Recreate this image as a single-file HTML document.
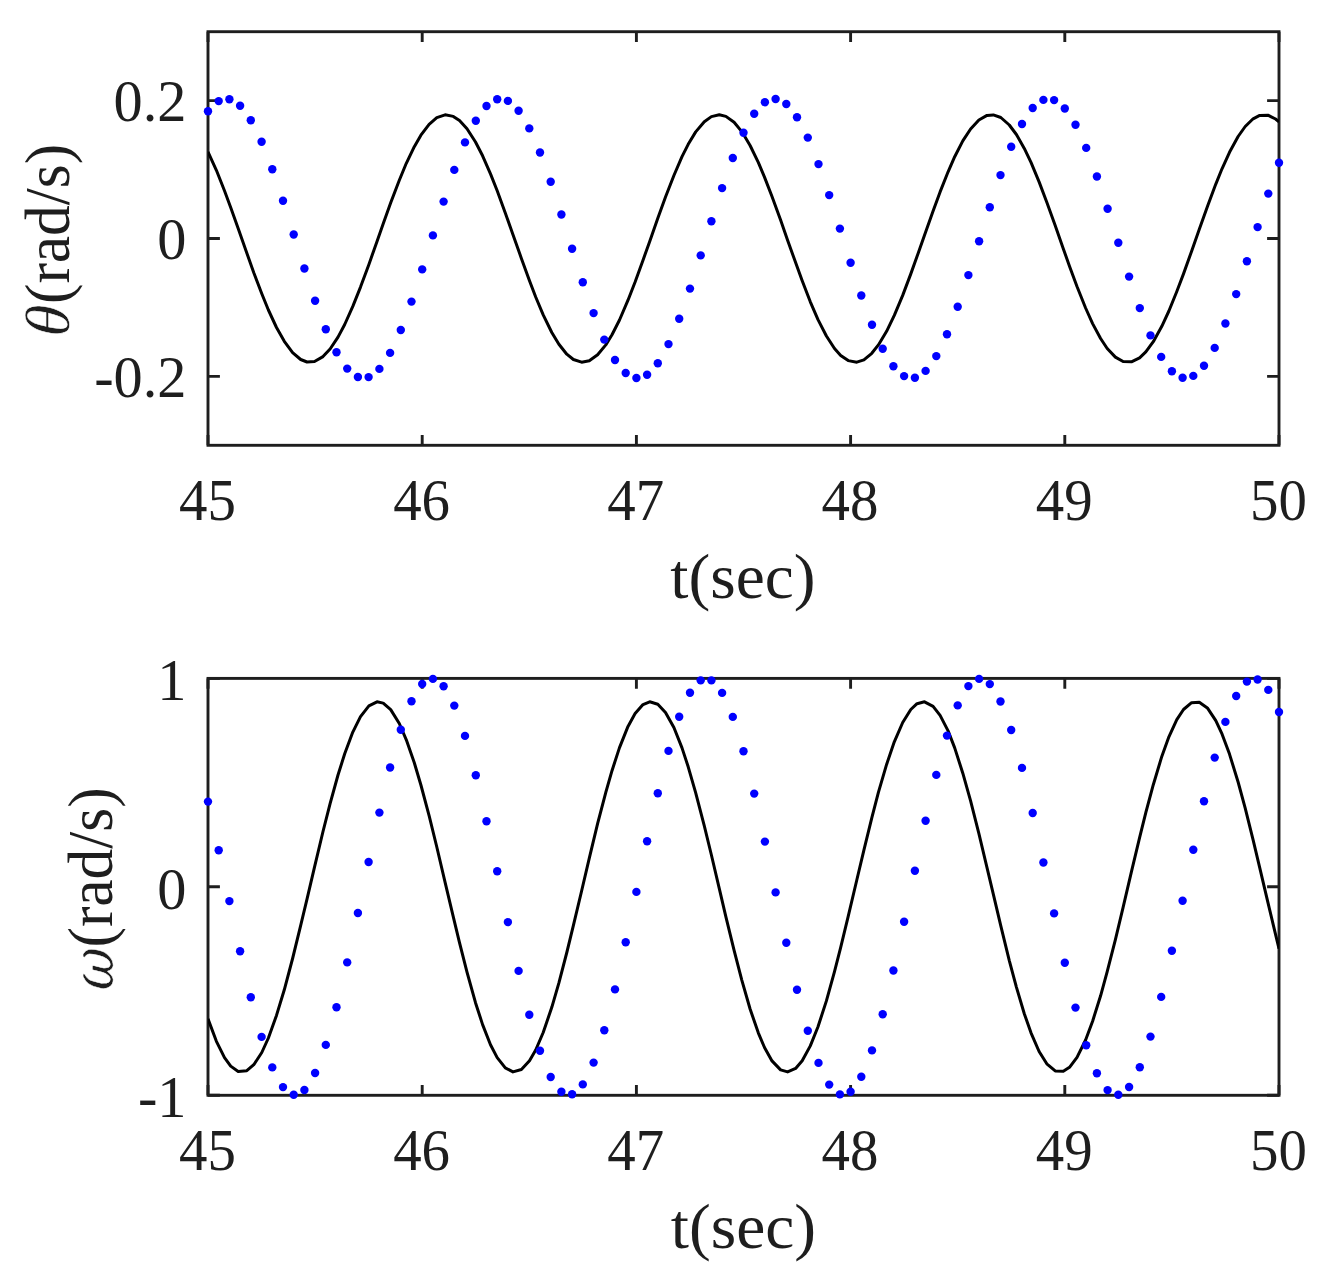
<!DOCTYPE html>
<html><head><meta charset="utf-8"><title>Pendulum response</title>
<style>
html,body{margin:0;padding:0;background:#fff}
svg{display:block}
text{font-family:"Liberation Serif","Times New Roman",serif;fill:#1e1e1e}
.tk text{font-size:58.33px}
.lb{font-size:64.17px}
.gk{font-style:italic;stroke:#fff;stroke-width:0.6px}
.om{font-family:"DejaVu Serif","Liberation Serif",serif;font-style:italic;font-size:55px;stroke:#fff;stroke-width:0.5px}
</style></head><body>
<svg width="1335" height="1272" viewBox="0 0 1335 1272">
<defs><clipPath id="c1"><rect x="208.0" y="31.7" width="1071.0" height="413.6"/></clipPath><clipPath id="c2"><rect x="208.0" y="678.4" width="1071.0" height="416.9"/></clipPath></defs>
<rect width="1335" height="1272" fill="#fff"/>
<g id="plot1">
<rect x="208.0" y="31.7" width="1071.0" height="413.6" fill="none" stroke="#1e1e1e" stroke-width="2.90"/><path d="M208.0 445.3v-10.3M208.0 31.7v10.3M422.2 445.3v-10.3M422.2 31.7v10.3M636.4 445.3v-10.3M636.4 31.7v10.3M850.6 445.3v-10.3M850.6 31.7v10.3M1064.8 445.3v-10.3M1064.8 31.7v10.3M1279.0 445.3v-10.3M1279.0 31.7v10.3M208.0 376.4h11.9M1279.0 376.4h-11.9M208.0 238.5h11.9M1279.0 238.5h-11.9M208.0 100.6h11.9M1279.0 100.6h-11.9" fill="none" stroke="#1e1e1e" stroke-width="2.90"/>
<polyline clip-path="url(#c1)" points="208.0,151.8 216.4,170.3 224.5,190.8 230.7,207.5 238.2,228.6 246.8,253.0 253.8,272.7 261.8,293.7 268.4,310.0 276.5,327.5 284.3,341.3 292.6,352.6 300.7,359.5 307.0,362.0 314.5,361.5 323.0,356.6 330.1,349.0 338.0,337.1 344.7,324.5 352.8,306.4 360.5,287.1 368.9,264.4 377.0,241.4 383.2,223.7 390.7,202.8 399.3,180.3 406.3,163.3 414.3,146.7 420.9,135.2 429.1,124.3 436.8,117.7 445.1,114.8 453.3,116.4 459.5,120.5 467.0,128.7 475.5,142.0 482.6,155.8 490.5,173.9 497.2,190.8 505.3,212.9 513.0,234.7 521.4,258.4 529.5,280.8 535.7,297.0 543.2,314.9 551.8,332.5 558.9,344.3 566.8,354.2 573.4,359.5 581.6,362.2 589.3,360.7 597.6,354.8 605.8,344.9 612.0,334.8 619.5,320.0 628.0,300.2 635.1,282.0 643.0,260.2 649.7,241.4 657.8,218.3 665.5,197.0 673.9,175.5 682.0,156.7 688.2,144.3 695.7,131.9 704.3,121.7 711.4,116.6 719.3,114.8 725.9,116.4 734.1,122.3 741.8,131.6 750.1,145.5 758.3,162.4 764.5,177.1 772.0,196.5 780.6,220.1 787.6,240.2 795.6,262.6 802.2,280.8 810.3,301.8 818.0,319.6 826.4,336.0 834.5,348.5 840.7,355.4 848.2,360.6 856.8,362.2 863.9,359.8 871.8,353.3 878.4,344.9 886.6,331.3 894.3,315.3 902.7,295.4 910.8,273.9 917.0,256.6 924.5,235.3 933.1,211.1 940.1,191.9 948.1,171.8 954.7,156.7 962.8,140.9 970.6,129.0 978.9,120.0 987.0,115.4 993.3,114.9 1000.8,117.5 1009.3,125.0 1016.4,134.5 1024.3,148.4 1031.0,162.4 1039.1,181.9 1046.8,202.2 1055.2,225.5 1063.3,248.7 1069.5,266.2 1077.0,286.5 1085.6,308.0 1092.6,323.6 1100.6,338.5 1107.2,348.5 1115.4,357.1 1123.1,361.5 1131.4,361.8 1139.6,357.8 1145.8,351.9 1153.3,341.7 1161.8,326.3 1168.9,311.0 1176.8,291.5 1183.5,273.9 1191.6,251.2 1199.3,229.2 1207.7,205.8 1215.8,184.1 1222.0,168.8 1229.5,152.3 1238.1,136.5 1245.2,126.5 1253.1,118.8 1259.7,115.4 1267.9,115.2 1275.6,119.0 1279.0,121.9" fill="none" stroke="#000" stroke-width="3.00" stroke-linejoin="round"/>
<g fill="#0000ff"><circle cx="208.0" cy="111.2" r="4.2"/><circle cx="218.7" cy="101.1" r="4.2"/><circle cx="229.4" cy="99.2" r="4.2"/><circle cx="240.1" cy="105.7" r="4.2"/><circle cx="250.8" cy="120.2" r="4.2"/><circle cx="261.6" cy="141.8" r="4.2"/><circle cx="272.3" cy="169.2" r="4.2"/><circle cx="283.0" cy="200.7" r="4.2"/><circle cx="293.7" cy="234.5" r="4.2"/><circle cx="304.4" cy="268.5" r="4.2"/><circle cx="315.1" cy="300.8" r="4.2"/><circle cx="325.8" cy="329.3" r="4.2"/><circle cx="336.5" cy="352.3" r="4.2"/><circle cx="347.2" cy="368.6" r="4.2"/><circle cx="357.9" cy="377.0" r="4.2"/><circle cx="368.6" cy="377.1" r="4.2"/><circle cx="379.4" cy="368.9" r="4.2"/><circle cx="390.1" cy="352.9" r="4.2"/><circle cx="400.8" cy="330.0" r="4.2"/><circle cx="411.5" cy="301.6" r="4.2"/><circle cx="422.2" cy="269.4" r="4.2"/><circle cx="432.9" cy="235.4" r="4.2"/><circle cx="443.6" cy="201.6" r="4.2"/><circle cx="454.3" cy="169.9" r="4.2"/><circle cx="465.0" cy="142.4" r="4.2"/><circle cx="475.8" cy="120.7" r="4.2"/><circle cx="486.5" cy="106.0" r="4.2"/><circle cx="497.2" cy="99.3" r="4.2"/><circle cx="507.9" cy="100.9" r="4.2"/><circle cx="518.6" cy="110.8" r="4.2"/><circle cx="529.3" cy="128.4" r="4.2"/><circle cx="540.0" cy="152.5" r="4.2"/><circle cx="550.7" cy="181.8" r="4.2"/><circle cx="561.4" cy="214.5" r="4.2"/><circle cx="572.1" cy="248.7" r="4.2"/><circle cx="582.8" cy="282.2" r="4.2"/><circle cx="593.6" cy="313.1" r="4.2"/><circle cx="604.3" cy="339.6" r="4.2"/><circle cx="615.0" cy="360.0" r="4.2"/><circle cx="625.7" cy="373.0" r="4.2"/><circle cx="636.4" cy="378.0" r="4.2"/><circle cx="647.1" cy="374.7" r="4.2"/><circle cx="657.8" cy="363.2" r="4.2"/><circle cx="668.5" cy="344.1" r="4.2"/><circle cx="679.2" cy="318.8" r="4.2"/><circle cx="690.0" cy="288.6" r="4.2"/><circle cx="700.7" cy="255.4" r="4.2"/><circle cx="711.4" cy="221.3" r="4.2"/><circle cx="722.1" cy="188.1" r="4.2"/><circle cx="732.8" cy="158.0" r="4.2"/><circle cx="743.5" cy="132.7" r="4.2"/><circle cx="754.2" cy="113.7" r="4.2"/><circle cx="764.9" cy="102.2" r="4.2"/><circle cx="775.6" cy="99.0" r="4.2"/><circle cx="786.3" cy="104.0" r="4.2"/><circle cx="797.0" cy="117.2" r="4.2"/><circle cx="807.8" cy="137.6" r="4.2"/><circle cx="818.5" cy="164.1" r="4.2"/><circle cx="829.2" cy="195.1" r="4.2"/><circle cx="839.9" cy="228.6" r="4.2"/><circle cx="850.6" cy="262.8" r="4.2"/><circle cx="861.3" cy="295.5" r="4.2"/><circle cx="872.0" cy="324.7" r="4.2"/><circle cx="882.7" cy="348.8" r="4.2"/><circle cx="893.4" cy="366.3" r="4.2"/><circle cx="904.1" cy="376.1" r="4.2"/><circle cx="914.9" cy="377.7" r="4.2"/><circle cx="925.6" cy="370.9" r="4.2"/><circle cx="936.3" cy="356.1" r="4.2"/><circle cx="947.0" cy="334.3" r="4.2"/><circle cx="957.7" cy="306.8" r="4.2"/><circle cx="968.4" cy="275.1" r="4.2"/><circle cx="979.1" cy="241.3" r="4.2"/><circle cx="989.8" cy="207.3" r="4.2"/><circle cx="1000.5" cy="175.1" r="4.2"/><circle cx="1011.2" cy="146.8" r="4.2"/><circle cx="1022.0" cy="124.0" r="4.2"/><circle cx="1032.7" cy="108.0" r="4.2"/><circle cx="1043.4" cy="99.9" r="4.2"/><circle cx="1054.1" cy="100.1" r="4.2"/><circle cx="1064.8" cy="108.5" r="4.2"/><circle cx="1075.5" cy="124.8" r="4.2"/><circle cx="1086.2" cy="147.9" r="4.2"/><circle cx="1096.9" cy="176.5" r="4.2"/><circle cx="1107.6" cy="208.8" r="4.2"/><circle cx="1118.3" cy="242.8" r="4.2"/><circle cx="1129.1" cy="276.6" r="4.2"/><circle cx="1139.8" cy="308.1" r="4.2"/><circle cx="1150.5" cy="335.4" r="4.2"/><circle cx="1161.2" cy="356.9" r="4.2"/><circle cx="1171.9" cy="371.3" r="4.2"/><circle cx="1182.6" cy="377.8" r="4.2"/><circle cx="1193.3" cy="375.9" r="4.2"/><circle cx="1204.0" cy="365.7" r="4.2"/><circle cx="1214.7" cy="347.9" r="4.2"/><circle cx="1225.4" cy="323.5" r="4.2"/><circle cx="1236.2" cy="294.1" r="4.2"/><circle cx="1246.9" cy="261.3" r="4.2"/><circle cx="1257.6" cy="227.1" r="4.2"/><circle cx="1268.3" cy="193.6" r="4.2"/><circle cx="1279.0" cy="162.8" r="4.2"/></g>
<g class="tk"><text transform="translate(207.4 519.6) scale(0.975 1)" text-anchor="middle">45</text><text transform="translate(421.6 519.6) scale(0.975 1)" text-anchor="middle">46</text><text transform="translate(635.8 519.6) scale(0.975 1)" text-anchor="middle">47</text><text transform="translate(850.0 519.6) scale(0.975 1)" text-anchor="middle">48</text><text transform="translate(1064.2 519.6) scale(0.975 1)" text-anchor="middle">49</text><text transform="translate(1278.4 519.6) scale(0.975 1)" text-anchor="middle">50</text><text x="186.5" y="121.4" text-anchor="end">0.2</text><text x="186.5" y="259.3" text-anchor="end">0</text><text x="186.5" y="397.2" text-anchor="end">-0.2</text></g>
<text class="lb" transform="translate(743.0 598.3) scale(1.02 1)" text-anchor="middle">t(sec)</text>
<g transform="translate(68.9 0) rotate(-90)"><text class="lb gk" transform="translate(-337.4 0) skewX(-3) scale(1.0 0.98)">θ</text><text class="lb" transform="translate(-304 0) scale(0.956 1)">(rad/s)</text></g>
</g>
<g id="plot2">
<rect x="208.0" y="678.4" width="1071.0" height="416.9" fill="none" stroke="#1e1e1e" stroke-width="2.90"/><path d="M208.0 1095.3v-10.3M208.0 678.4v10.3M422.2 1095.3v-10.3M422.2 678.4v10.3M636.4 1095.3v-10.3M636.4 678.4v10.3M850.6 1095.3v-10.3M850.6 678.4v10.3M1064.8 1095.3v-10.3M1064.8 678.4v10.3M1279.0 1095.3v-10.3M1279.0 678.4v10.3M208.0 1095.3h11.9M1279.0 1095.3h-11.9M208.0 886.8h11.9M1279.0 886.8h-11.9M208.0 678.4h11.9M1279.0 678.4h-11.9" fill="none" stroke="#1e1e1e" stroke-width="2.90"/>
<polyline clip-path="url(#c2)" points="208.0,1018.9 216.4,1041.3 224.5,1057.6 230.7,1066.1 238.2,1071.4 246.8,1070.7 253.8,1064.7 261.8,1052.5 268.4,1038.0 276.5,1015.4 284.3,989.8 292.6,958.5 300.7,925.4 307.0,899.2 314.5,867.2 323.0,831.5 330.1,803.6 338.0,775.0 344.7,753.8 352.8,732.1 360.5,716.6 368.9,705.9 377.0,701.8 383.2,703.1 390.7,709.6 399.3,723.5 406.3,739.8 414.3,762.7 420.9,785.0 429.1,815.6 436.8,847.0 445.1,882.3 453.3,916.9 459.5,942.6 467.0,972.1 475.5,1002.7 482.6,1024.6 490.5,1044.7 497.2,1057.6 505.3,1067.9 513.0,1071.9 521.4,1069.5 529.5,1060.8 535.7,1050.0 543.2,1032.5 551.8,1007.3 558.9,982.9 566.8,952.5 573.4,925.4 581.6,891.0 589.3,858.2 597.6,823.7 605.8,792.4 612.0,770.7 619.5,747.6 628.0,726.4 635.1,713.6 643.0,704.6 649.7,701.8 657.8,704.2 665.5,712.5 673.9,727.5 682.0,747.9 688.2,766.8 695.7,792.8 704.3,825.9 711.4,855.0 719.3,888.7 725.9,916.9 734.1,950.4 741.8,980.1 750.1,1009.0 758.3,1032.8 764.5,1047.5 772.0,1060.9 780.6,1069.9 787.6,1071.9 795.6,1068.4 802.2,1060.8 810.3,1045.9 818.0,1026.7 826.4,1000.9 834.5,971.7 840.7,947.4 848.2,916.4 856.8,880.0 863.9,850.1 871.8,817.8 878.4,792.4 886.6,764.4 894.3,741.8 902.7,722.5 910.8,709.5 917.0,703.7 924.5,701.8 933.1,706.3 940.1,715.4 948.1,730.9 954.7,747.9 962.8,773.2 970.6,800.8 978.9,833.7 987.0,867.7 993.3,894.2 1000.8,925.8 1009.3,960.6 1016.4,987.1 1024.3,1013.7 1031.0,1032.8 1039.1,1051.5 1046.8,1063.8 1055.2,1070.9 1063.3,1071.3 1069.5,1067.3 1077.0,1057.4 1085.6,1040.0 1092.6,1021.2 1100.6,995.8 1107.2,971.7 1115.4,939.6 1123.1,907.4 1131.4,871.8 1139.6,837.7 1145.8,812.7 1153.3,784.7 1161.8,756.4 1168.9,736.8 1176.8,719.6 1183.5,709.5 1191.6,702.7 1199.3,702.3 1207.7,708.3 1215.8,720.6 1222.0,733.9 1229.5,754.1 1238.1,782.0 1245.2,808.1 1253.1,839.9 1259.7,867.7 1267.9,902.4 1275.6,934.7 1279.0,948.7" fill="none" stroke="#000" stroke-width="3.00" stroke-linejoin="round"/>
<g fill="#0000ff"><circle cx="208.0" cy="801.6" r="4.2"/><circle cx="218.7" cy="850.3" r="4.2"/><circle cx="229.4" cy="901.1" r="4.2"/><circle cx="240.1" cy="951.2" r="4.2"/><circle cx="250.8" cy="997.3" r="4.2"/><circle cx="261.6" cy="1036.9" r="4.2"/><circle cx="272.3" cy="1067.4" r="4.2"/><circle cx="283.0" cy="1087.1" r="4.2"/><circle cx="293.7" cy="1094.8" r="4.2"/><circle cx="304.4" cy="1090.0" r="4.2"/><circle cx="315.1" cy="1073.0" r="4.2"/><circle cx="325.8" cy="1044.9" r="4.2"/><circle cx="336.5" cy="1007.2" r="4.2"/><circle cx="347.2" cy="962.4" r="4.2"/><circle cx="357.9" cy="913.0" r="4.2"/><circle cx="368.6" cy="862.0" r="4.2"/><circle cx="379.4" cy="812.6" r="4.2"/><circle cx="390.1" cy="767.5" r="4.2"/><circle cx="400.8" cy="729.7" r="4.2"/><circle cx="411.5" cy="701.3" r="4.2"/><circle cx="422.2" cy="684.0" r="4.2"/><circle cx="432.9" cy="678.9" r="4.2"/><circle cx="443.6" cy="686.2" r="4.2"/><circle cx="454.3" cy="705.6" r="4.2"/><circle cx="465.0" cy="735.9" r="4.2"/><circle cx="475.8" cy="775.2" r="4.2"/><circle cx="486.5" cy="821.3" r="4.2"/><circle cx="497.2" cy="871.2" r="4.2"/><circle cx="507.9" cy="922.1" r="4.2"/><circle cx="518.6" cy="970.9" r="4.2"/><circle cx="529.3" cy="1014.7" r="4.2"/><circle cx="540.0" cy="1050.7" r="4.2"/><circle cx="550.7" cy="1077.0" r="4.2"/><circle cx="561.4" cy="1091.8" r="4.2"/><circle cx="572.1" cy="1094.3" r="4.2"/><circle cx="582.8" cy="1084.4" r="4.2"/><circle cx="593.6" cy="1062.6" r="4.2"/><circle cx="604.3" cy="1030.3" r="4.2"/><circle cx="615.0" cy="989.4" r="4.2"/><circle cx="625.7" cy="942.3" r="4.2"/><circle cx="636.4" cy="891.9" r="4.2"/><circle cx="647.1" cy="841.2" r="4.2"/><circle cx="657.8" cy="793.2" r="4.2"/><circle cx="668.5" cy="750.9" r="4.2"/><circle cx="679.2" cy="716.7" r="4.2"/><circle cx="690.0" cy="692.7" r="4.2"/><circle cx="700.7" cy="680.4" r="4.2"/><circle cx="711.4" cy="680.4" r="4.2"/><circle cx="722.1" cy="692.9" r="4.2"/><circle cx="732.8" cy="716.9" r="4.2"/><circle cx="743.5" cy="751.2" r="4.2"/><circle cx="754.2" cy="793.6" r="4.2"/><circle cx="764.9" cy="841.6" r="4.2"/><circle cx="775.6" cy="892.4" r="4.2"/><circle cx="786.3" cy="942.8" r="4.2"/><circle cx="797.0" cy="989.8" r="4.2"/><circle cx="807.8" cy="1030.7" r="4.2"/><circle cx="818.5" cy="1062.9" r="4.2"/><circle cx="829.2" cy="1084.6" r="4.2"/><circle cx="839.9" cy="1094.4" r="4.2"/><circle cx="850.6" cy="1091.7" r="4.2"/><circle cx="861.3" cy="1076.8" r="4.2"/><circle cx="872.0" cy="1050.4" r="4.2"/><circle cx="882.7" cy="1014.3" r="4.2"/><circle cx="893.4" cy="970.5" r="4.2"/><circle cx="904.1" cy="921.7" r="4.2"/><circle cx="914.9" cy="870.8" r="4.2"/><circle cx="925.6" cy="820.8" r="4.2"/><circle cx="936.3" cy="774.9" r="4.2"/><circle cx="947.0" cy="735.6" r="4.2"/><circle cx="957.7" cy="705.4" r="4.2"/><circle cx="968.4" cy="686.1" r="4.2"/><circle cx="979.1" cy="678.9" r="4.2"/><circle cx="989.8" cy="684.1" r="4.2"/><circle cx="1000.5" cy="701.5" r="4.2"/><circle cx="1011.2" cy="730.0" r="4.2"/><circle cx="1022.0" cy="767.9" r="4.2"/><circle cx="1032.7" cy="813.0" r="4.2"/><circle cx="1043.4" cy="862.5" r="4.2"/><circle cx="1054.1" cy="913.4" r="4.2"/><circle cx="1064.8" cy="962.8" r="4.2"/><circle cx="1075.5" cy="1007.6" r="4.2"/><circle cx="1086.2" cy="1045.2" r="4.2"/><circle cx="1096.9" cy="1073.2" r="4.2"/><circle cx="1107.6" cy="1090.1" r="4.2"/><circle cx="1118.3" cy="1094.8" r="4.2"/><circle cx="1129.1" cy="1087.0" r="4.2"/><circle cx="1139.8" cy="1067.2" r="4.2"/><circle cx="1150.5" cy="1036.6" r="4.2"/><circle cx="1161.2" cy="996.9" r="4.2"/><circle cx="1171.9" cy="950.7" r="4.2"/><circle cx="1182.6" cy="900.7" r="4.2"/><circle cx="1193.3" cy="849.8" r="4.2"/><circle cx="1204.0" cy="801.2" r="4.2"/><circle cx="1214.7" cy="757.6" r="4.2"/><circle cx="1225.4" cy="721.9" r="4.2"/><circle cx="1236.2" cy="696.0" r="4.2"/><circle cx="1246.9" cy="681.6" r="4.2"/><circle cx="1257.6" cy="679.5" r="4.2"/><circle cx="1268.3" cy="689.9" r="4.2"/><circle cx="1279.0" cy="712.0" r="4.2"/></g>
<g class="tk"><text transform="translate(207.4 1169.6) scale(0.975 1)" text-anchor="middle">45</text><text transform="translate(421.6 1169.6) scale(0.975 1)" text-anchor="middle">46</text><text transform="translate(635.8 1169.6) scale(0.975 1)" text-anchor="middle">47</text><text transform="translate(850.0 1169.6) scale(0.975 1)" text-anchor="middle">48</text><text transform="translate(1064.2 1169.6) scale(0.975 1)" text-anchor="middle">49</text><text transform="translate(1278.4 1169.6) scale(0.975 1)" text-anchor="middle">50</text><text x="186.5" y="700.4" text-anchor="end">1</text><text x="186.5" y="908.8" text-anchor="end">0</text><text x="186.5" y="1117.3" text-anchor="end">-1</text></g>
<text class="lb" transform="translate(743.5 1248.0) scale(1.02 1)" text-anchor="middle">t(sec)</text>
<g transform="translate(112 0) rotate(-90)"><text class="om" transform="translate(-991.1 1.2) skewX(-4) scale(0.945 1.05)">ω</text><text class="lb" transform="translate(-947.5 0) scale(0.956 1)">(rad/s)</text></g>
</g>
</svg>
</body></html>
